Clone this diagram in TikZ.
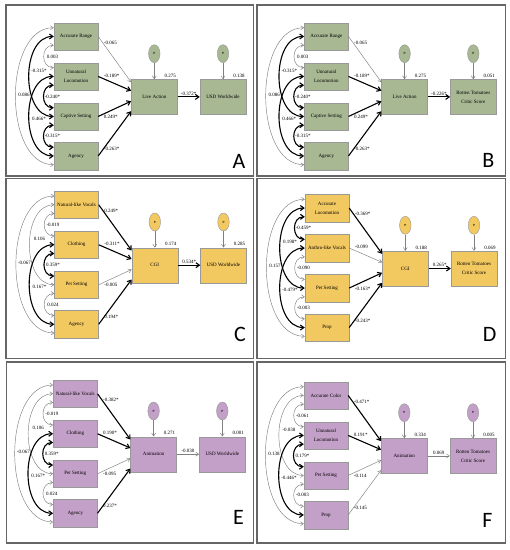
\documentclass[tikz,border=0pt]{standalone}
\usepackage{fontspec}
\setmainfont{Liberation Serif}
\newfontfamily\letterfont{Carlito}
\usetikzlibrary{arrows.meta,shapes.geometric}
\definecolor{semgreen}{RGB}{167,184,147}
\definecolor{semyellow}{RGB}{242,200,96}
\definecolor{sempurple}{RGB}{195,160,200}
\tikzset{
 boxbase/.style={draw=black!40, line width=0.4pt, inner sep=0pt, align=center, font=\fontsize{5}{9}\selectfont},
 predbox/.style={boxbase, minimum width=44pt, minimum height=27.5pt},
 outbox/.style={boxbase, minimum width=46pt, minimum height=35pt},
 errnode/.style={ellipse, draw=black!40, line width=0.4pt, minimum width=11.5pt, minimum height=18pt, inner sep=0pt, font=\fontsize{4.5}{5}\selectfont},
 coef/.style={font=\fontsize{5}{6}\selectfont, inner sep=0.5pt},
 sig/.style={draw=black, line width=1.1pt, -{Straight Barb[length=3.5pt,width=5pt]}},
 nsig/.style={draw=black!50, line width=0.45pt, -{Straight Barb[length=3pt,width=4pt]}},
 sigcov/.style={draw=black, line width=1.1pt, {Straight Barb[length=3.5pt,width=5pt]}-{Straight Barb[length=3.5pt,width=5pt]}},
 nsigcov/.style={draw=black!50, line width=0.45pt, {Straight Barb[length=3pt,width=4pt]}-{Straight Barb[length=3pt,width=4pt]}},
 panelframe/.style={draw=black!60, line width=1.1pt},
 panelletter/.style={font=\letterfont\fontsize{22}{22}\selectfont, inner sep=0pt},
}
% boxes of one panel
\newcommand\sempanel[8]{%
  \node[predbox, fill=#2] (#1p1) at (22,13.75) {#3};
  \node[predbox, fill=#2] (#1p2) at (22,53.75) {#4};
  \node[predbox, fill=#2] (#1p3) at (22,93.75) {#5};
  \node[predbox, fill=#2] (#1p4) at (22,133.25) {#6};
  \node[outbox, fill=#2] (#1m) at (100.3,74.2) {#7};
  \node[outbox, fill=#2] (#1o) at (169,74.2) {#8};
  \node[errnode, fill=#2] (#1em) at (100.3,31) {e};
  \node[errnode, fill=#2] (#1eo) at (169,31) {e};
  \draw[nsig] (#1em) -- (#1m);
  \draw[nsig] (#1eo) -- (#1o);
}
% covariances between neighbouring predictors
\newcommand\semadj[7]{%
  \draw[#2] ([yshift=-8.75pt]#1p1.west) .. controls +(-13.3,0) and +(-13.3,0) .. ([yshift=8.75pt]#1p2.west);
  \draw[#4] ([yshift=-8.75pt]#1p2.west) .. controls +(-13.3,0) and +(-13.3,0) .. ([yshift=8.75pt]#1p3.west);
  \draw[#6] ([yshift=-8.75pt]#1p3.west) .. controls +(-13.3,0) and +(-13.3,0) .. ([yshift=8.75pt]#1p4.west);
  \node[coef] (#1c12) at (-1.5,33.75) {#3};
  \node[coef] (#1c23) at (-1.5,73.75) {#5};
  \node[coef] (#1c34) at (-1.5,113.5) {#7};
}
% covariances over longer spans
\newcommand\semlong[7]{%
  \draw[#2] (#1p1.west) .. controls +(-33,0) and +(-33,0) .. (#1p3.west);
  \draw[#4] (#1p2.west) .. controls +(-33,0) and +(-33,0) .. (#1p4.west);
  \draw[#6] ([yshift=8.75pt]#1p1.west) .. controls +(-51,0) and +(-51,0) .. ([yshift=-8.75pt]#1p4.west);
  \node[coef] (#1c13) at (-15,48) {#3};
  \node[coef] (#1c24) at (-15,96) {#5};
  \node[coef] (#1c14) at (-30,72) {#7};
}
% paths to the mediator
\newcommand\sempaths[9]{%
  \draw[#2] (#1p1.east) -- ([yshift=-3pt]#1m.north west);
  \draw[#4] (#1p2.east) -- ([yshift=-11.5pt]#1m.north west);
  \draw[#6] (#1p3.east) -- ([yshift=-22pt]#1m.north west);
  \draw[#8] (#1p4.east) -- ([yshift=-32pt]#1m.north west);
  \node[coef, anchor=west] (#1b1) at ([xshift=5pt,yshift=-6pt]#1p1.east) {#3};
  \node[coef, anchor=west] (#1b2) at ([xshift=5pt,yshift=1pt]#1p2.east) {#5};
  \node[coef, anchor=west] (#1b3) at ([xshift=5pt,yshift=-0.5pt]#1p3.east) {#7};
  \node[coef, anchor=west] (#1b4) at ([xshift=5pt,yshift=7pt]#1p4.east) {#9};
}
% mediator to outcome, and R squared
\newcommand\semmed[5]{%
  \draw[#2] (#1m) -- node[coef, above=0.5pt] (#1bm) {#3} (#1o);
  \node[coef, anchor=south east] (#1r1) at ([xshift=-1pt,yshift=1pt]#1m.north east) {#4};
  \node[coef, anchor=south east] (#1r2) at ([xshift=-1pt,yshift=1pt]#1o.north east) {#5};
}
\begin{document}
\begin{tikzpicture}[x=1pt,y=-1pt]
\useasboundingbox (0,0) rectangle (510,550);
\fill[white] (0,0) rectangle (510,550);
\draw[panelframe] (6,5) rectangle (253.5,176);
\draw[panelframe] (257,5) rectangle (505.5,176);
\draw[panelframe] (6,178.5) rectangle (253.5,358.5);
\draw[panelframe] (257,178.5) rectangle (505.5,358.5);
\draw[panelframe] (6.5,362) rectangle (253.5,543);
\draw[panelframe] (257,362) rectangle (505.5,543);
% Panel A
\begin{scope}[shift={(54,22.7)}]
\sempanel{A}{semgreen}{Accurate Range}{Unnatural\\Locomotion}{Captive Setting}{Agency}{Live Action}{USD Worldwide}
\semadj{A}{nsigcov}{0.003}{sigcov}{-0.240*}{sigcov}{-0.315*}
\semlong{A}{sigcov}{-0.315*}{sigcov}{0.466*}{nsigcov}{0.086}
\sempaths{A}{nsig}{-0.065}{sig}{-0.189*}{sig}{0.249*}{sig}{-0.263*}
\semmed{A}{sig}{-0.372*}{0.275}{0.138}
\end{scope}
% Panel B
\begin{scope}[shift={(304.3,22.7)}]
\sempanel{B}{semgreen}{Accurate Range}{Unnatural\\Locomotion}{Captive Setting}{Agency}{Live Action}{Rotten Tomatoes\\Critic Score}
\semadj{B}{nsigcov}{0.003}{sigcov}{-0.240*}{sigcov}{-0.315*}
\semlong{B}{sigcov}{-0.315*}{sigcov}{0.466*}{nsigcov}{0.086}
\sempaths{B}{nsig}{-0.065}{sig}{-0.189*}{sig}{0.249*}{sig}{-0.263*}
\semmed{B}{sig}{-0.226*}{0.275}{0.051}
\end{scope}
% Panel C
\begin{scope}[shift={(54.5,191)}]
\sempanel{C}{semyellow}{Natural-like Vocals}{Clothing}{Pet Setting}{Agency}{CGI}{USD Worldwide}
\semadj{C}{nsigcov}{-0.019}{sigcov}{0.359*}{nsigcov}{0.024}
\semlong{C}{nsigcov}{0.106}{sigcov}{0.167*}{nsigcov}{-0.067}
\sempaths{C}{sig}{0.249*}{sig}{-0.311*}{nsig}{-0.005}{sig}{0.194*}
\semmed{C}{sig}{0.534*}{0.174}{0.285}
\end{scope}
% Panel D
\begin{scope}[shift={(305,194.3)}]
\sempanel{D}{semyellow}{Accurate\\Locomotion}{Anthro-like Vocals}{Pet Setting}{Prop}{CGI}{Rotten Tomatoes\\Critic Score}
\semadj{D}{sigcov}{-0.459*}{nsigcov}{-0.090}{nsigcov}{-0.003}
\semlong{D}{sigcov}{0.198*}{sigcov}{-0.479*}{nsigcov}{0.157}
\sempaths{D}{sig}{-0.369*}{nsig}{-0.099}{sig}{-0.163*}{sig}{-0.243*}
\semmed{D}{sig}{0.265*}{0.188}{0.069}
\end{scope}
% Panel E
\begin{scope}[shift={(53.3,380)}]
\sempanel{E}{sempurple}{Natural-like Vocals}{Clothing}{Pet Setting}{Agency}{Animation}{USD Worldwide}
\semadj{E}{nsigcov}{-0.019}{sigcov}{0.359*}{nsigcov}{0.024}
\semlong{E}{nsigcov}{0.106}{sigcov}{0.167*}{nsigcov}{-0.067}
\sempaths{E}{sig}{-0.382*}{sig}{0.190*}{nsig}{-0.095}{sig}{0.237*}
\semmed{E}{nsig}{-0.030}{0.271}{0.001}
\end{scope}
% Panel F
\begin{scope}[shift={(304,381.7)}]
\sempanel{F}{sempurple}{Accurate Color}{Unnatural\\Locomotion}{Pet Setting}{Prop}{Animation}{Rotten Tomatoes\\Critic Score}
\semadj{F}{nsigcov}{-0.061}{sigcov}{0.179*}{nsigcov}{-0.003}
\semlong{F}{nsigcov}{-0.038}{sigcov}{-0.446*}{nsigcov}{0.138}
\sempaths{F}{sig}{-0.471*}{sig}{0.191*}{nsig}{-0.114}{nsig}{-0.145}
\semmed{F}{nsig}{0.069}{0.334}{0.005}
\end{scope}
\node[panelletter] (LA) at (239,161) {A};
\node[panelletter] (LB) at (488.3,160) {B};
\node[panelletter] (LC) at (240,334) {C};
\node[panelletter] (LD) at (489.7,334) {D};
\node[panelletter] (LE) at (238.5,517) {E};
\node[panelletter] (LF) at (487.5,520) {F};
\end{tikzpicture}
\end{document}
